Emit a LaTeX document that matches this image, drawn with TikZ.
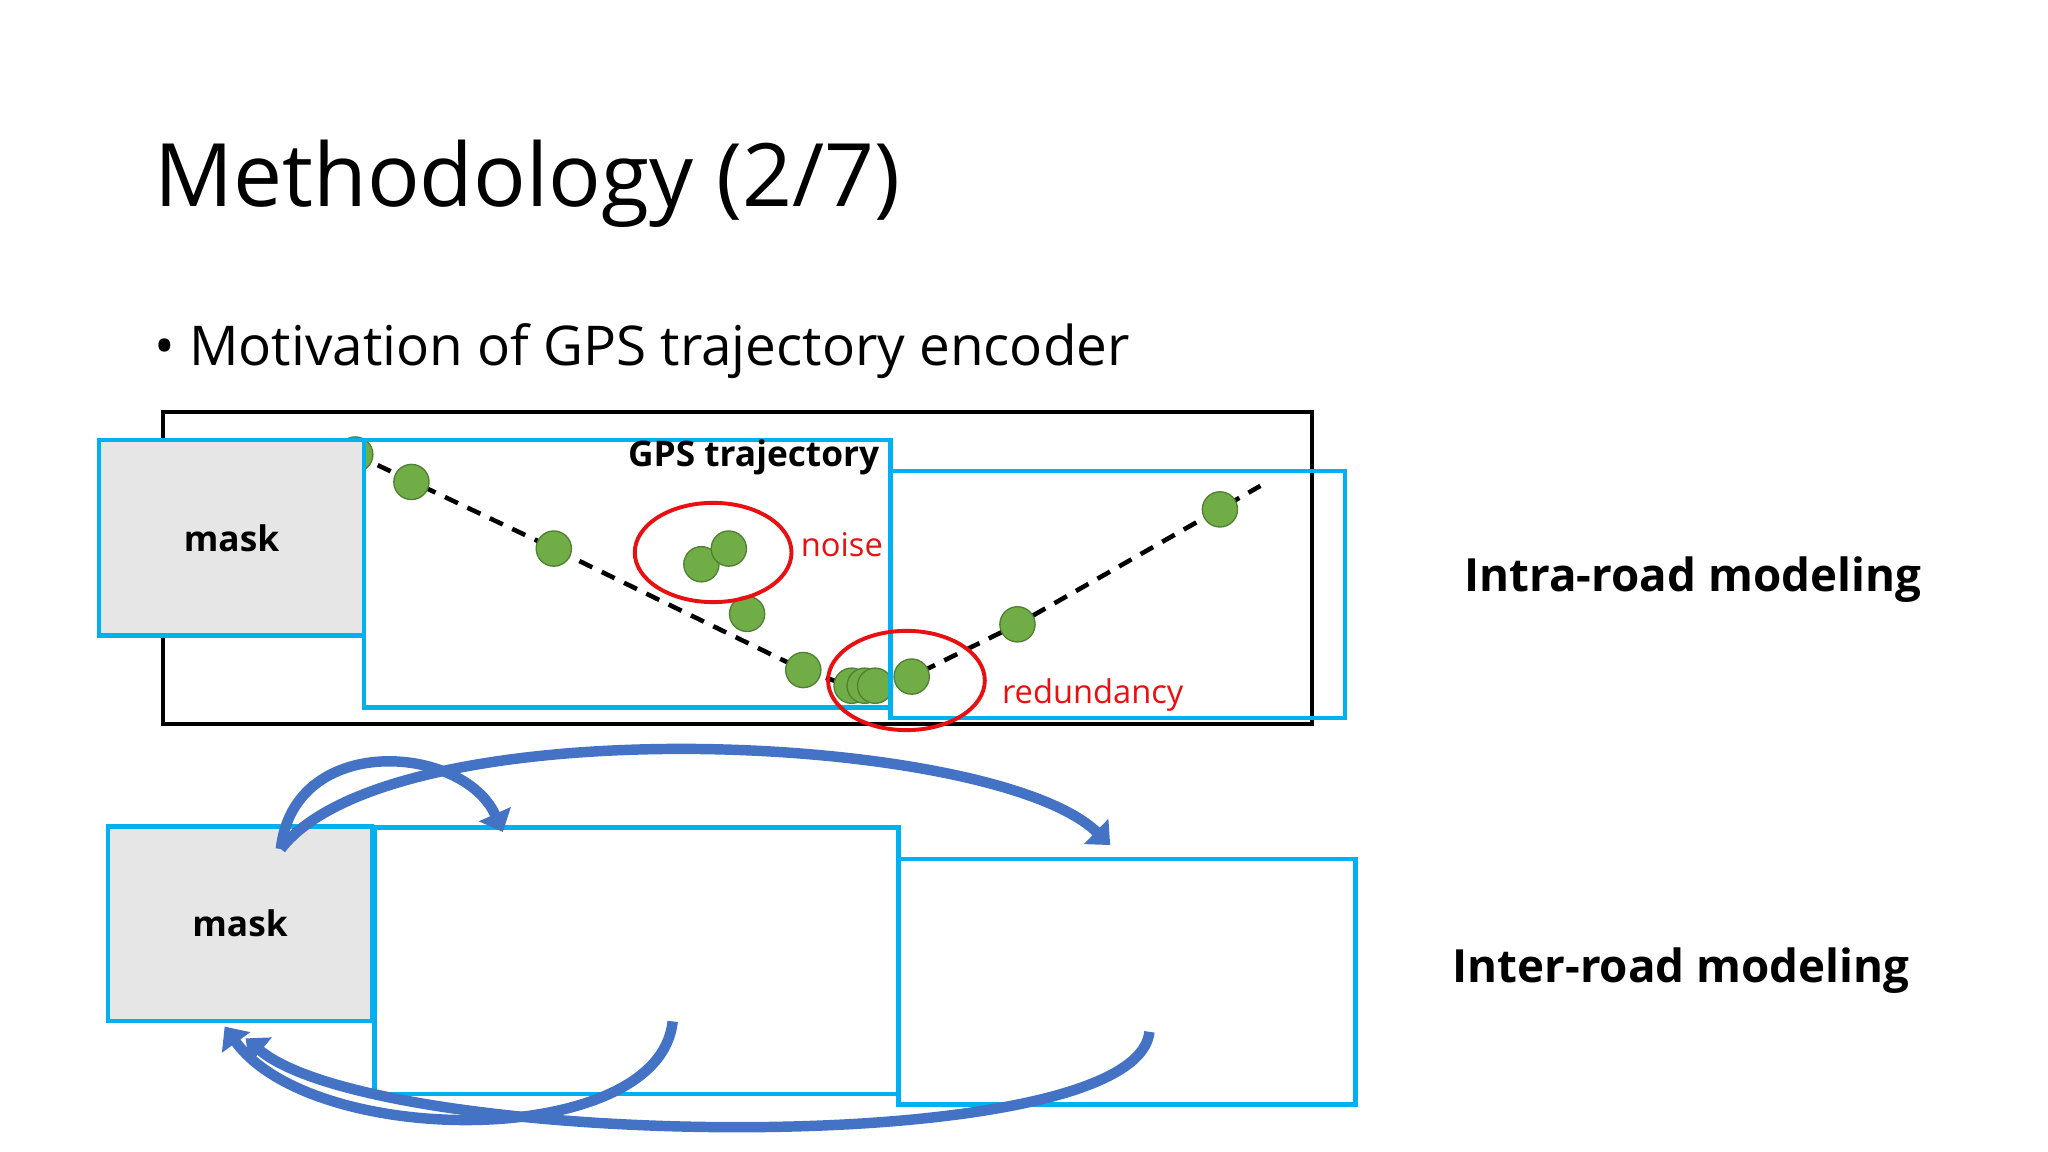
\documentclass[tikz,border=0pt]{standalone}
\usepackage{fontspec}
\setmainfont{Open Sans}
\usetikzlibrary{arrows.meta}
\definecolor{cyanb}{HTML}{00B0F0}
\definecolor{grayf}{HTML}{E6E6E6}
\definecolor{dotg}{HTML}{70AD47}
\definecolor{dotd}{HTML}{507E32}
\definecolor{arb}{HTML}{4472C4}
\definecolor{redn}{HTML}{E81010}
\begin{document}
\begin{tikzpicture}[x=1pt,y=-1pt,
  bbox/.style={draw=cyanb,line width=3.5pt},
  dot/.style={circle,fill=dotg,draw=dotd,line width=1pt,minimum size=27pt,inner sep=0pt},
  ell/.style={draw=redn,line width=3pt},
  fat/.style={draw=arb,line width=8pt,-{Triangle[width=26pt,length=15pt]}},
  lbl/.style={font=\bfseries\fontsize{35}{40}\selectfont}]
\useasboundingbox (0,0) rectangle (1568,882);
\node[anchor=base west,inner sep=0pt,font=\fontsize{67}{78}\selectfont] (title) at (118,158) {Methodology (2/7)};
\node[anchor=base west,inner sep=0pt,font=\fontsize{42}{48}\selectfont] (bullet) at (118,280) {• Motivation of GPS trajectory encoder};
\node[draw=black,line width=3pt,minimum width=880pt,minimum height=239pt,inner sep=0pt,anchor=north west] (frame) at (123,314) {};
% trajectory
\draw[line width=3.5pt,dash pattern=on 11pt off 8pt] (272,348)--(424,420)--(615,513)--(650,525)--(698,518)--(779,478)--(965,372);
\node[dot] (d1) at (272,348) {};
\foreach \n/\x/\y in {d2/315/369,d3/424/420,d4/537/432,d5/558/420,d6/572/470,d7/615/513,d8/652/525,d9/662/525,d10/670/525,d11/698/518,d12/779/478,d13/934/390}
  \node[dot] (\n) at (\x,\y) {};
\node[bbox,fill=grayf,minimum width=203pt,minimum height=150pt,inner sep=0pt,anchor=north west,font=\fontsize{27}{30}\selectfont\bfseries] (m1) at (74,335) {mask};
\node[bbox,minimum width=403pt,minimum height=205pt,inner sep=0pt,anchor=north west] (b1) at (277,335) {};
\node[bbox,minimum width=348pt,minimum height=189pt,inner sep=0pt,anchor=north west] (b2) at (680,359) {};
\node[font=\bfseries\fontsize{27}{30}\selectfont] (gps) at (577,350) {GPS trajectory};
\draw[ell] (546,423) ellipse (60pt and 38pt);
\draw[ell] (694,521) ellipse (60pt and 38pt);
\node[anchor=west,inner sep=0pt,text=redn,font=\fontsize{25}{28}\selectfont] (noise) at (613,417) {noise};
\node[anchor=west,inner sep=0pt,text=redn,font=\fontsize{25}{28}\selectfont] (red) at (767,532) {redundancy};
\node[lbl] (intra) at (1296,444) {Intra-road modeling};
% lower
\node[bbox,fill=grayf,minimum width=202pt,minimum height=149pt,inner sep=0pt,anchor=north west,font=\fontsize{27}{30}\selectfont\bfseries] (m2) at (81,631) {mask};
\node[bbox,minimum width=401pt,minimum height=204pt,inner sep=0pt,anchor=north west] (b3) at (285,632) {};
\node[bbox,minimum width=350pt,minimum height=188pt,inner sep=0pt,anchor=north west] (b4) at (686,656) {};
\node[lbl] (inter) at (1287,743) {Inter-road modeling};
\coordinate (s1) at (215,650);
\coordinate (t1) at (385,637);
\coordinate (t2) at (850,647);
\coordinate (s3) at (515,782);
\coordinate (s4) at (880,790);
\coordinate (t3) at (172,786);
\coordinate (t4) at (188,795);
\draw[fat] (s1) .. controls (225,560) and (355,570) .. (t1);
\draw[fat] (s1) .. controls (300,540) and (760,560) .. (t2);
\draw[fat] (s3) .. controls (505,880) and (240,880) .. (t3);
\draw[fat] (s4) .. controls (870,890) and (290,880) .. (t4);
\end{tikzpicture}
\end{document}
